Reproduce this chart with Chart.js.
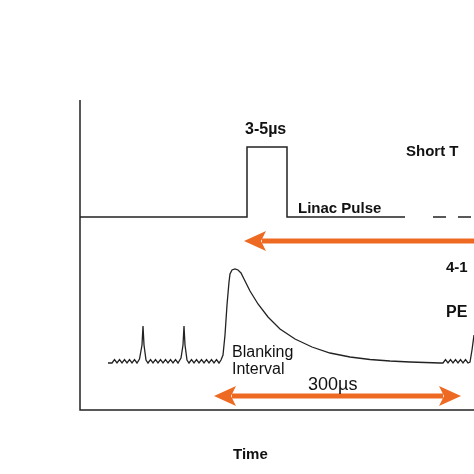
<!DOCTYPE html>
<html><head><meta charset="utf-8">
<script src="https://cdn.jsdelivr.net/npm/chart.js"></script>
<style>html,body{margin:0;background:#fff}#c{width:474px;height:474px}</style>
</head><body><div id="c"><canvas id="chart"></canvas></div>
<script>
// diagram drawn in a 474x474 coordinate space (y down)
var axisX = [80, 80, 474];
var axisY = [100, 410, 410];

var pulseX = [80, 247, 247, 287, 287, 405];
var pulseY = [217, 217, 147, 147, 217, 217];

var dashX = [433, 446, null, 458, 471];
var dashY = [217, 217, null, 217, 217];

var traceX = [108, 112, 114.5, 117, 119.5, 122, 124.5, 127, 129.5, 132, 134.5, 137, 139.5, 142, 143, 144, 146, 148, 150.5, 153, 155.5, 158, 160.5, 163, 165.5, 168, 170.5, 173, 175.5, 178, 181, 183, 184, 185, 187, 189, 191.5, 194, 196.5, 199, 201.5, 204, 206.5, 209, 211.5, 214, 216.5, 219, 221, 223, 225, 227, 229, 230, 232, 235, 238, 241, 244, 250, 258, 268, 280, 295, 312, 330, 350, 370, 390, 410, 425, 440, 443, 445.5, 448, 450.5, 453, 455.5, 458, 460.5, 463, 465.5, 468, 470, 472, 474];
var traceY = [363, 363, 359.5, 363, 359.5, 363, 359.5, 363, 359.5, 363, 359.5, 363, 359, 345, 326, 345, 360, 363, 359.5, 363, 359.5, 363, 359.5, 363, 359.5, 363, 359.5, 363, 359.5, 363, 358, 345, 326, 345, 360, 363, 359.5, 363, 359.5, 363, 359.5, 363, 359.5, 363, 359.5, 363, 359.5, 363, 360, 355, 335, 305, 282, 274, 270, 269, 270, 273, 279, 291, 304, 317, 329, 339, 347, 353, 357, 359.5, 361, 362, 362.5, 363, 363, 359.5, 363, 359.5, 363, 359.5, 363, 359.5, 363, 359.5, 363, 362, 350, 335];

var arrowTopX = [262, 474];
var arrowTopY = [241, 241];
var arrowBotX = [232, 443];
var arrowBotY = [396, 396];

var labels = [
  {t: "3-5\u00b5s", x: 245, y: 134, b: true, s: 16},
  {t: "Short T", x: 406, y: 156, b: true, s: 15},
  {t: "Linac Pulse", x: 298, y: 213, b: true, s: 15},
  {t: "4-1", x: 446, y: 272, b: true, s: 15},
  {t: "PE", x: 446, y: 317, b: true, s: 16},
  {t: "Blanking", x: 232, y: 357, b: false, s: 16},
  {t: "Interval", x: 232, y: 374, b: false, s: 16},
  {t: "300\u00b5s", x: 308, y: 390, b: false, s: 18},
  {t: "Time", x: 233, y: 459, b: true, s: 15}
];

function pts(xs, ys) {
  return xs.map(function (x, i) { return x === null ? {x: null, y: null} : {x: x, y: ys[i]}; });
}
function line(xs, ys, color, w, dash) {
  return {data: pts(xs, ys), borderColor: color, borderWidth: w, pointRadius: 0,
    showLine: true, fill: false, tension: 0, spanGaps: false, borderDash: dash || []};
}

var ORANGE = '#ee6a22';
var extras = {
  id: 'extras',
  afterDatasetsDraw: function (chart) {
    var ctx = chart.ctx, sx = chart.scales.x, sy = chart.scales.y;
    function head(x, y, dir) {
      var px = sx.getPixelForValue(x), py = sy.getPixelForValue(y);
      ctx.beginPath();
      ctx.moveTo(px, py);
      ctx.lineTo(px - dir * 22, py - 10);
      ctx.lineTo(px - dir * 17, py);
      ctx.lineTo(px - dir * 22, py + 10);
      ctx.closePath();
      ctx.fillStyle = ORANGE; ctx.fill();
    }
    head(244, 241, -1);
    head(214, 396, -1);
    head(461, 396, 1);
    ctx.fillStyle = '#111';
    ctx.textBaseline = 'alphabetic';
    labels.forEach(function (l) {
      ctx.font = (l.b ? 'bold ' : '') + l.s + 'px "Liberation Sans", Arial, sans-serif';
      ctx.fillText(l.t, sx.getPixelForValue(l.x), sy.getPixelForValue(l.y));
    });
  }
};

new Chart(document.getElementById('chart'), {
  type: 'scatter',
  data: {datasets: [
    line(axisX, axisY, '#222', 1.5),
    line(pulseX, pulseY, '#222', 1.5),
    line(dashX, dashY, '#222', 1.5),
    line(traceX, traceY, '#222', 1.3),
    line(arrowTopX, arrowTopY, ORANGE, 5),
    line(arrowBotX, arrowBotY, ORANGE, 5)
  ]},
  options: {
    responsive: true, maintainAspectRatio: false, animation: false,
    layout: {padding: 0},
    plugins: {legend: {display: false}, tooltip: {enabled: false}},
    scales: {
      x: {type: 'linear', min: 0, max: 474, display: false},
      y: {type: 'linear', min: 0, max: 474, reverse: true, display: false}
    }
  },
  plugins: [extras]
});
</script></body></html>
